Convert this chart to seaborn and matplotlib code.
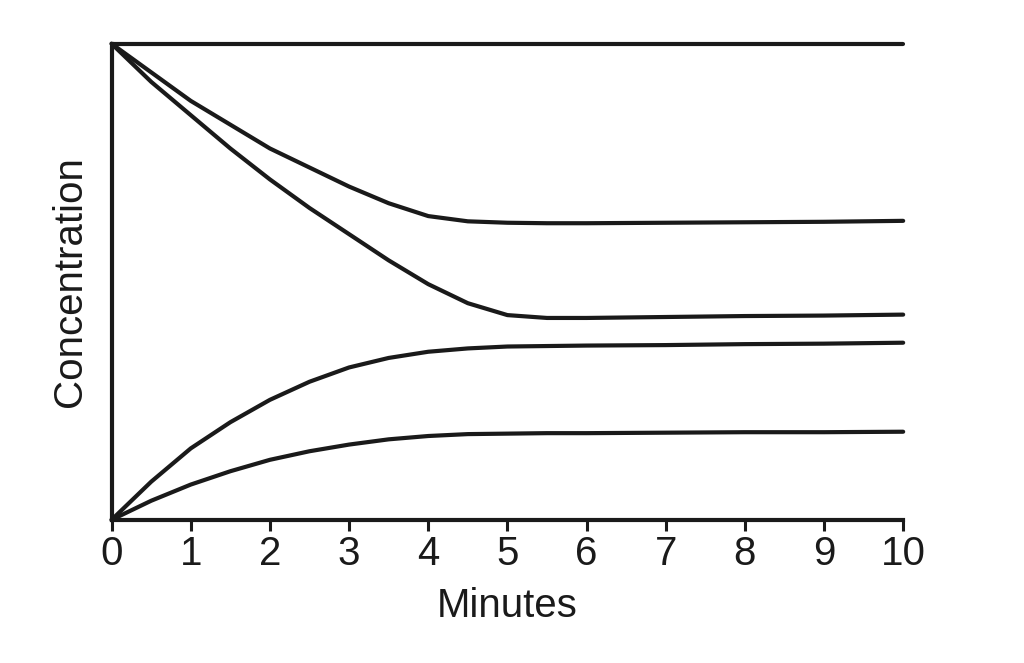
import matplotlib
matplotlib.use("Agg")
import matplotlib.pyplot as plt
import seaborn as sns
import pandas as pd

minutes = [0, 0.5, 1, 1.5, 2, 2.5, 3, 3.5, 4, 4.5, 5, 5.5, 6, 7, 8, 9, 10]
top_line = [1.0] * 17
curve_a = [1.0, 0.94, 0.88, 0.83, 0.78, 0.74, 0.70, 0.665, 0.638, 0.627, 0.624, 0.623,
           0.623, 0.624, 0.625, 0.626, 0.628]
curve_b = [1.0, 0.92, 0.85, 0.78, 0.715, 0.655, 0.60, 0.545, 0.495, 0.455, 0.43, 0.424,
           0.424, 0.426, 0.428, 0.429, 0.431]
curve_c = [0.0, 0.08, 0.15, 0.205, 0.252, 0.29, 0.32, 0.34, 0.353, 0.36, 0.364, 0.365,
           0.366, 0.367, 0.369, 0.370, 0.372]
curve_d = [0.0, 0.04, 0.074, 0.102, 0.126, 0.144, 0.158, 0.169, 0.176, 0.18, 0.181, 0.182,
           0.182, 0.183, 0.184, 0.184, 0.185]

sns.set_style("ticks")
plt.rcParams['font.family'] = ['Liberation Sans', 'DejaVu Sans']

fig = plt.figure(figsize=(10.24, 6.63), dpi=100)
ax = fig.add_axes([0.109, 0.216, 0.773, 0.718])
for vals in [top_line, curve_a, curve_b, curve_c, curve_d]:
    df = pd.DataFrame({"Minutes": minutes, "c": vals})
    sns.lineplot(data=df, x="Minutes", y="c", ax=ax, color="#1a1a1a", lw=3,
                 clip_on=False, solid_joinstyle="round")

ax.set_xlim(0, 10)
ax.set_ylim(0, 1)
ax.set_xticks(range(11))
ax.set_yticks([])
ax.tick_params(axis="x", labelsize=29, length=8, width=2.2, pad=3, colors="#1a1a1a")
for s in ["left", "bottom"]:
    ax.spines[s].set_linewidth(3)
    ax.spines[s].set_color("#1a1a1a")
ax.spines["top"].set_visible(False)
ax.spines["right"].set_visible(False)
ax.set_xlabel("Minutes", fontsize=29, color="#1a1a1a", labelpad=10)
ax.set_ylabel("Concentration", fontsize=29, color="#1a1a1a", labelpad=16)
fig.savefig("out.png", dpi=100)
